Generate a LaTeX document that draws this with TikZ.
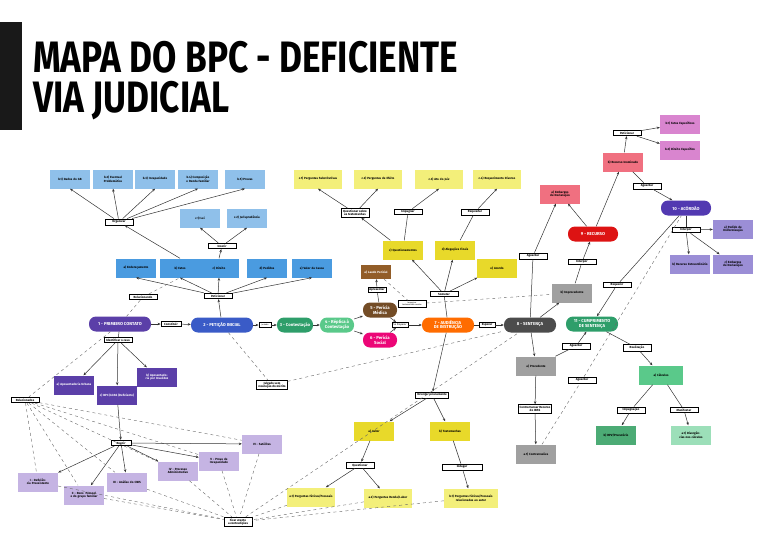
\documentclass[tikz,border=0pt]{standalone}
\usepackage{fontspec}
\setmainfont{Fira Sans}
\newfontfamily\titlefont[FakeStretch=0.8]{Fira Sans}
\usetikzlibrary{arrows.meta}
\definecolor{lb}{HTML}{8FC0EA}\definecolor{mb}{HTML}{4A9BE0}
\definecolor{pp}{HTML}{5B3FA8}\definecolor{lp}{HTML}{C5B4E3}
\definecolor{yl}{HTML}{E8D92A}\definecolor{ly}{HTML}{F3EF7A}
\definecolor{gr}{HTML}{2E9E6A}\definecolor{lg}{HTML}{5AC98A}
\definecolor{pk}{HTML}{F07080}\definecolor{mg}{HTML}{D985CF}
\definecolor{vp}{HTML}{9B8ED6}\definecolor{gy}{HTML}{A0A0A0}
\definecolor{pib}{HTML}{3A5BC7}
\tikzset{
 bx/.style={font=\fontsize{3}{3.5}\selectfont\bfseries,align=center,minimum width=40pt,minimum height=19pt,text width=36pt,inner sep=1pt},
 lb1/.style={draw=black,line width=0.8pt,fill=white,font=\fontsize{3}{3.5}\selectfont\bfseries,align=center,inner sep=1.5pt,minimum width=28pt},
 st/.style={rounded corners=7pt,font=\fontsize{4.3}{4.6}\selectfont\bfseries,text=white,align=center,minimum height=15pt,inner sep=1.5pt},
 ar/.style={-{Stealth[length=3pt,width=2.5pt]},line width=0.5pt,draw=black!80},
 ln/.style={line width=0.5pt,draw=black!80},
 ds/.style={dashed,line width=0.4pt,draw=black!60},
}
\begin{document}
\begin{tikzpicture}[x=1pt,y=-1pt]
\useasboundingbox (0,0) rectangle (768,543);
\fill[black!90] (0,22) rectangle (22,130);
\node[anchor=west,font=\fontsize{44}{44}\titlefont\bfseries,inner sep=0] (t1) at (33,57) {MAPA DO BPC - DEFICIENTE};
\node[anchor=west,font=\fontsize{44}{44}\titlefont\bfseries,inner sep=0] (t2) at (33,101) {VIA JUDICIAL};
% blue
\foreach \n/\x/\t in {b1/70/b.1) Dados do GB,b2/113/b.2) Eventual Problemática,b3/155/b.3) Incapacidade,b4/198/b.4) Composição e Renda Familiar,b5/245/b.5) Provas}
 \node[bx,fill=lb] (\n) at (\x,179) {\t};
\node[bx,fill=lb] (c1) at (200,218) {c.1) Lei};
\node[bx,fill=lb] (c2) at (247,218) {c.2) Jurisprudência};
\foreach \n/\x/\t in {pa/136/a) Endereçamento,pb/180/b) Fatos,pc/219/c) Direito,pd/267/d) Pedidos,pe/312/e) Valor da Causa}
 \node[bx,fill=mb] (\n) at (\x,268) {\t};
\node[lb1] (org) at (119,222) {Organizar};
\node[lb1] (ins) at (222,246) {Inserir};
\node[lb1] (pet) at (218,296) {Peticionar};
\node[lb1] (rel) at (143,297) {Relacionando};
\draw[ar] (org)--(b1.south); \draw[ar] (org)--(b2.south); \draw[ar] (org)--(b3.south); \draw[ar] (org)--(b4.south); \draw[ar] (org)--(b5.south);
\draw[ar] (pb.north)--(org); \draw[ar] (ins)--(c1.south); \draw[ar] (ins)--(c2.south); \draw[ar] (pc.north)--(ins);
\foreach \n in {pa,pb,pc,pd,pe} \draw[ar] (pet)--(\n.south);
% main line
\node[st,fill=pp,minimum width=62pt] (s1) at (120,324) {1 - PRIMEIRO CONTATO};
\node[lb1,minimum width=20pt] (cons) at (171,324) {Constituir};
\node[st,fill=pib,minimum width=62pt] (s2) at (222,325) {2 - PETIÇÃO INICIAL};
\node[lb1,minimum width=12pt,font=\fontsize{2}{2.5}\selectfont] (jun) at (265,325) {Juntada};
\node[st,fill=gr,minimum width=36pt] (s3) at (295,325) {3 - Contestação};
\node[st,fill=lg,minimum width=34pt] (s4) at (337,325) {4 - Réplica à\\Contestação};
\node[st,fill=brown!60!black,minimum width=34pt] (s5) at (380,310) {5 - Perícia\\Médica};
\node[st,fill=magenta!80!red,minimum width=34pt] (s6) at (380,340) {6 - Perícia\\Social};
\node[bx,fill=brown!70!black!90!orange,text=white,minimum width=30pt,text width=28pt,minimum height=14pt] (laudo) at (376,272) {a) Laudo Pericial};
\node[lb1,minimum width=14pt] (apr) at (377,290) {Apresentar};
\node[lb1,minimum width=16pt,font=\fontsize{2.5}{3}\selectfont] (prep) at (400,325) {Se Preparar};
\node[st,fill=orange!85!red,minimum width=52pt] (s7) at (448,325) {7 - AUDIÊNCIA\\DE INSTRUÇÃO};
\node[lb1,minimum width=16pt] (esp) at (487,325) {Esperar};
\node[st,fill=black!70,minimum width=52pt] (s8) at (530,325) {8 - SENTENÇA};
\draw[ar] (s1)--(cons); \draw[ar] (cons)--(s2); \draw[ar] (s2)--(pet);
\draw[ar] (s2)--(jun); \draw[ar] (jun)--(s3); \draw[ar] (s3)--(s4);
\draw[ar] (s4)--(s5); \draw[ar] (s4)--(s6); \draw[ar] (s5)--(prep); \draw[ar] (s6)--(prep); \draw[ar] (prep)--(s7);
\draw[ln] (s5)--(apr); \draw[ar] (apr)--(laudo); \draw[ln] (s7)--(esp); \draw[ar] (esp)--(s8);
\draw[ds] (s1)--(rel); \draw[ds] (rel)--(pb.south);
% audiencia branch
\foreach \n/\x/\t in {y1/318/c.1) Perguntas Substitutivas,y2/378/c.2) Perguntas de Efeito,y3/439/c.3) Ato do Juiz/Procurador,y4/497/c.4) Requerimento Diverso}
 \node[bx,fill=ly,text width=44pt,minimum width=48pt] (\n) at (\x,179) {\t};
\node[lb1] (qst) at (355,213) {Questionar sobre\\as testemunhas};
\node[lb1] (imp) at (408,212) {Impugnar};
\node[lb1] (req) at (475,212) {Requisitar};
\node[bx,fill=yl] (qq) at (403,250) {c) Questionamentos};
\node[bx,fill=yl] (al) at (455,250) {d) Alegações Finais};
\node[bx,fill=yl] (ac) at (497,268) {e) Acordo};
\node[lb1] (som) at (444,294) {Somatar};
\node[lb1,font=\fontsize{2}{2.5}\selectfont] (imt) at (412,304) {Impugnar\\testemunhas ouvidas};
\draw[ln] (s7)--(som); \draw[ar] (som)--(qq); \draw[ar] (som)--(al); \draw[ar] (som)--(ac);
\draw[ar] (qq)--(qst); \draw[ar] (qst)--(y1.south); \draw[ar] (qst)--(y2.south);
\draw[ln] (qq)--(imp); \draw[ar] (imp)--(y3.south); \draw[ln] (al)--(req); \draw[ar] (req)--(y4.south);
\draw[ds] (laudo)--(imt);
\node[lb1] (ori) at (432,395) {Orientar previamente};
\node[bx,fill=yl] (au) at (374,431) {a) Autor};
\node[bx,fill=yl] (te) at (450,431) {b) Testemunhas};
\node[lb1] (qs2) at (360,465) {Questionar};
\node[lb1,minimum width=40pt] (ind) at (462,467) {Indagar};
\node[bx,fill=ly,minimum width=48pt,text width=44pt] (a1) at (311,497) {a.1) Perguntas Fáticas/Pessoais};
\node[bx,fill=ly,minimum width=48pt,text width=44pt] (a2) at (388,498) {a.2) Perguntas Renda/Labor};
\node[bx,fill=ly,minimum width=54pt,text width=50pt] (bb1) at (471,498) {b.1) Perguntas Fáticas/Pessoais relacionadas ao autor};
\draw[ar] (s7)--(ori); \draw[ar] (ori)--(au); \draw[ar] (ori)--(te);
\draw[ar] (au)--(qs2); \draw[ar] (qs2)--(a1); \draw[ar] (qs2)--(a2); \draw[ln] (te)--(ind); \draw[ar] (ind)--(bb1);
% left bottom
\node[lb1] (idc) at (118,340) {Identificar o caso};
\node[bx,fill=pp,text=white] (au1) at (74,385) {a) Aposentadoria Urbana};
\node[bx,fill=pp,text=white] (bpc) at (117,395) {c) BPC/LOAS (Deficiente)};
\node[bx,fill=pp,text=white] (ai) at (157,377) {b) Aposentadoria por Invalidez};
\node[lb1] (rls) at (25,400) {Relacionados};
\node[lb1,minimum width=20pt] (reu) at (121,443) {Reunir};
\node[bx,fill=lp] (r1) at (38,482) {I - Deficiência Preexistente};
\node[bx,fill=lp] (r2) at (84,495) {II - Renc. Pessoal e do grupo familiar};
\node[bx,fill=lp] (r3) at (127,482) {III - Análise do CNIS};
\node[bx,fill=lp] (r4) at (178,471) {IV - Processo Administrativo};
\node[bx,fill=lp] (r5) at (219,461) {V - Prova de Incapacidade};
\node[bx,fill=lp] (r6) at (262,444) {VI - Satélites};
\node[lb1] (fic) at (238,522) {Ficar atento\\a contradições};
\node[lb1] (jul) at (272,385) {Julgado sem\\resolução do mérito};
\draw[ln] (s1)--(idc); \draw[ar] (idc)--(au1); \draw[ar] (idc)--(bpc); \draw[ar] (idc)--(ai);
\draw[ar] (bpc)--(reu);
\foreach \n in {r1,r2,r3,r4,r5,r6} {\draw[ar] (reu)--(\n); \draw[ds] (rls)--(\n); \draw[ds] (\n)--(fic);}
\draw[ds] (s1)--(rls);
\draw[ds] (a1)--(fic); \draw[ds] (a2)--(fic); \draw[ds] (bb1)--(fic);
\draw[ds] (s2)--(jul); \draw[ds] (jul)--(s8);
% right
\node[bx,fill=pk] (emb) at (560,194) {a) Embargos de Declaração};
\node[bx,fill=pk] (rin) at (623,162) {b) Recurso Inominado};
\node[lb1] (pt2) at (627,133) {Peticionar};
\node[bx,fill=mg] (f1) at (680,124) {b.1) Fatos Específicos};
\node[bx,fill=mg] (f2) at (680,150) {b.2) Direito Específico};
\node[lb1] (ag1) at (647,186) {Aguardar};
\node[st,fill=red!85!black!90!pink,minimum width=50pt] (s9) at (593,234) {9 - RECURSO};
\node[lb1] (ag2) at (533,256) {Aguardar};
\node[lb1] (int1) at (582,262) {Interpor};
\node[bx,fill=gy] (imp2) at (572,293) {b) Improcedente};
\node[st,fill=pp!90!blue,minimum width=50pt] (s10) at (686,208) {10 - ACÓRDÃO};
\node[lb1] (int2) at (686,230) {Interpor};
\node[bx,fill=vp] (u1) at (733,229) {a) Pedido de Uniformização};
\node[bx,fill=vp] (u2) at (690,264) {b) Recurso Extraordinário};
\node[bx,fill=vp] (u3) at (733,264) {c) Embargos de Declaração};
\node[lb1] (rq2) at (617,285) {Requerer};
\node[st,fill=gr,minimum width=52pt] (s11) at (592,324) {11 - CUMPRIMENTO\\DE SENTENÇA};
\node[bx,fill=gy] (proc) at (536,366) {a) Procedente};
\node[lb1] (ag3) at (576,346) {Aguardar};
\node[lb1] (ag4) at (582,380) {Aguardar};
\node[lb1] (ctr) at (535,409) {Contrarrazoar Recurso\\do INSS};
\node[bx,fill=gy] (ctz) at (536,454) {a.1) Contrarrazões};
\node[lb1] (rea) at (637,348) {Realização};
\node[bx,fill=lg,minimum width=44pt] (cal) at (661,375) {a) Cálculos};
\node[lb1] (impg) at (631,410) {Impugnação};
\node[lb1] (man) at (684,410) {Manifestar};
\node[bx,fill=lg!85!black] (rpv) at (616,435) {b) RPV/Precatório};
\node[bx,fill=lg!60!white] (dv) at (691,435) {a.1) Divergências nos cálculos};
\draw[ln] (s8)--(ag2); \draw[ar] (ag2)--(emb); \draw[ar] (s8)--(imp2); \draw[ln] (imp2)--(int1); \draw[ar] (int1)--(s9);
\draw[ar] (s9)--(emb); \draw[ar] (s9)--(rin); \draw[ar] (rin)--(pt2); \draw[ar] (pt2)--(f1); \draw[ar] (pt2)--(f2);
\draw[ln] (rin)--(ag1); \draw[ar] (ag1)--(s10); \draw[ln] (s10)--(int2); \draw[ar] (int2)--(u1); \draw[ar] (int2)--(u2); \draw[ar] (int2)--(u3);
\draw[ln] (s10)--(rq2); \draw[ar] (rq2)--(s11);
\draw[ar] (s8)--(proc); \draw[ln] (proc)--(ag3); \draw[ar] (ag3)--(s11); \draw[ar] (proc)--(ctr); \draw[ar] (ctr)--(ctz);
\draw[ds] (ctz)--(ag4); \draw[ds] (ag4)--(s10);
\draw[ln] (s11)--(rea); \draw[ar] (rea)--(cal); \draw[ln] (cal)--(impg); \draw[ar] (impg)--(rpv); \draw[ln] (cal)--(man); \draw[ar] (man)--(dv);
\draw[ds] (imt)--(imp2); \draw[ds] (fic)--(s8);
\end{tikzpicture}
\end{document}
